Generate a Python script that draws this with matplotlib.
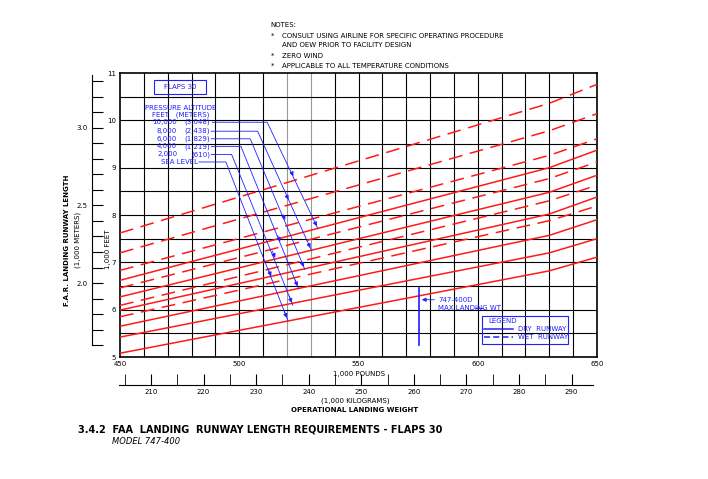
import matplotlib
matplotlib.use("Agg")
import matplotlib.pyplot as plt
import numpy as np

weights = [450, 630, 650]  # 1,000 lb
altitudes = ["SEA LEVEL", "2,000", "4,000", "6,000", "8,000", "10,000"]
dry = [[5.08, 6.82, 7.11], [5.42, 7.20, 7.50], [5.65, 7.57, 7.90],
       [5.99, 8.02, 8.38], [6.27, 8.48, 8.84], [6.62, 9.00, 9.37]]
wet = [[5.85, 7.88, 8.19], [6.09, 8.30, 8.63], [6.46, 8.77, 9.12],
       [6.83, 9.26, 9.61], [7.20, 9.78, 10.14], [7.62, 10.36, 10.76]]
alt_labels = [("10,000", "(3,048)"), ("8,000", "(2,438)"), ("6,000", "(1,829)"),
              ("4,000", "(1,219)"), ("2,000", "(610)")]
# leader geometry (data coords): label y, start x, corner x, mid arrow, end arrow
leaders = [(9.96, 488.7, 511.7, (523.2, 8.77), (533.0, 7.71)),
           (9.77, 488.3, 507.7, (521.1, 8.27), (530.3, 7.25)),
           (9.61, 488.3, 504.6, (519.7, 7.84), (527.5, 6.85)),
           (9.45, 488.3, 500.7, (517.6, 7.38), (524.9, 6.44)),
           (9.28, 488.3, 496.8, (515.5, 7.04), (522.5, 6.09)),
           (9.12, 483.1, 494.4, (513.8, 6.65), (520.4, 5.77))]
max_landing_wt = 575.4

BLUE = "#2020ff"
RED = "#ff1a1a"
FS = 5
fig = plt.figure(figsize=(7.08, 4.79), dpi=100)
ax = fig.add_axes([120/708, 1-357/479, 477/708, 284/479])
ax.set_xlim(450, 650)
ax.set_ylim(5, 11)
for x in range(460, 650, 10):
    ax.axvline(x, color="#999999" if x in (520, 530) else "black", lw=0.8, zorder=1)
for y in np.arange(5.5, 11, 0.5):
    ax.axhline(y, color="black", lw=0.8, zorder=1)
for s in ax.spines.values():
    s.set_linewidth(1.2)
for d in dry:
    ax.plot(weights, d, color=RED, lw=1.1, zorder=3)
for w in wet:
    ax.plot(weights, w, color=RED, lw=1.1, ls=(0, (9, 5)), zorder=3)

ax.set_xticks([450, 500, 550, 600, 650])
ax.set_yticks(range(5, 12))
ax.tick_params(length=0, labelsize=FS, pad=3)
ax.text(550, 4.70, "1,000 POUNDS", ha="center", va="top", fontsize=FS)
ax.text(-0.025, 0.38, "1,000 FEET", rotation=90, transform=ax.transAxes,
        ha="center", va="center", fontsize=FS)

# meters axis
mt = np.round(np.arange(1.6, 3.35, 0.1), 1)
sec = ax.secondary_yaxis(-0.0587, functions=(lambda f: f/3.28084, lambda m: m*3.28084))
sec.set_yticks(mt)
sec.set_yticklabels([f"{v:.1f}" if v in (2.0, 2.5, 3.0) else "" for v in mt])
sec.tick_params(direction="in", length=8, labelsize=FS, width=0.8, pad=3)
sec.spines["left"].set_bounds(1.6, 3.34)
fig.text(67/708, 1-240/479, "F.A.R. LANDING RUNWAY LENGTH", rotation=90, fontsize=FS,
         fontweight="bold", ha="center", va="center")
fig.text(78/708, 1-240/479, "(1,000 METERS)", rotation=90, fontsize=FS,
         ha="center", va="center")

# kg axis
kax = fig.add_axes([120/708, 1-385/479, 477/708, 0.001])
kax.set_xlim(450/2.20462, 650/2.20462)
for k in ["top", "left", "right"]:
    kax.spines[k].set_visible(False)
kax.spines["bottom"].set_bounds(204, 294)
kax.set_yticks([])
kax.set_xticks(range(205, 295, 5), minor=True)
kax.set_xticks(range(210, 300, 10))
kax.tick_params(axis="x", which="both", direction="in", length=8, labelsize=FS, pad=3)
fig.text(355/708, 1-401/479, "(1,000 KILOGRAMS)", ha="center", va="center", fontsize=FS)
fig.text(355/708, 1-410/479, "OPERATIONAL LANDING WEIGHT", ha="center", va="center",
         fontsize=FS, fontweight="bold")

# flaps box
ax.add_patch(plt.Rectangle((464.4, 10.55), 21.8, 0.31, fill=False, ec=BLUE, lw=0.8, zorder=4))
ax.text(475.3, 10.70, "FLAPS 30", color=BLUE, fontsize=FS, ha="center", va="center")
ax.text(475.4, 10.26, "PRESSURE ALTITUDE", color=BLUE, fontsize=FS, ha="center", va="center")
ax.text(475.4, 10.11, "FEET   (METERS)", color=BLUE, fontsize=FS, ha="center", va="center")
for (a, m), (ly, *_r) in zip(alt_labels, leaders):
    ax.text(474, ly, a, color=BLUE, fontsize=FS, ha="right", va="center")
    ax.text(487.8, ly, m, color=BLUE, fontsize=FS, ha="right", va="center")
ax.text(482.5, leaders[-1][0], "SEA LEVEL", color=BLUE, fontsize=FS, ha="right", va="center")
for ly, x0, xc, mid, end in leaders:
    ax.plot([x0, xc, end[0]], [ly, ly, end[1]], color=BLUE, lw=0.6, zorder=5)
    dx, dy = end[0]-xc, end[1]-ly
    for p in (mid, end):
        ax.annotate("", xy=p, xytext=(p[0]-dx*0.08, p[1]-dy*0.08),
                    arrowprops=dict(arrowstyle="-|>", color=BLUE, lw=0.6,
                                    mutation_scale=6), zorder=6)

# max landing weight
ax.plot([max_landing_wt]*2, [5.26, 6.46], color=BLUE, lw=1.2, zorder=5)
ax.annotate("", xy=(max_landing_wt, 6.21), xytext=(583, 6.21),
            arrowprops=dict(arrowstyle="-|>", color=BLUE, lw=0.6, mutation_scale=6))
ax.text(583.5, 6.21, "747-400D", color=BLUE, fontsize=FS, va="center")
ax.text(583.5, 6.04, "MAX LANDING WT", color=BLUE, fontsize=FS, va="center")
ax.plot([599, 602], [6.04, 6.04], color=BLUE, lw=0.6)

# legend box
ax.add_patch(plt.Rectangle((601.6, 5.28), 36.4, 0.59, fill=False, ec=BLUE, lw=0.8, zorder=5))
ax.text(610.5, 5.76, "LEGEND", color=BLUE, fontsize=FS, ha="center", va="center")
ax.plot([602.8, 614.8], [5.59, 5.59], color=BLUE, lw=1.1)
ax.plot([602.8, 614.8], [5.43, 5.43], color=BLUE, lw=1.1, ls=(0, (4, 2)))
ax.text(617, 5.59, "DRY  RUNWAY", color=BLUE, fontsize=FS, va="center")
ax.text(617, 5.43, "WET  RUNWAY", color=BLUE, fontsize=FS, va="center")

# notes
fig.text(270/708, 1-25/479, "NOTES:", fontsize=FS, va="center")
notes = [(36, "*", "CONSULT USING AIRLINE FOR SPECIFIC OPERATING PROCEDURE"),
         (45, "", "AND OEW PRIOR TO FACILITY DESIGN"),
         (56, "*", "ZERO WIND"),
         (66, "*", "APPLICABLE TO ALL TEMPERATURE CONDITIONS")]
for y, b, t in notes:
    fig.text(271/708, 1-y/479, b, fontsize=FS, va="center")
    fig.text(282/708, 1-y/479, t, fontsize=FS, va="center")

fig.text(78/708, 1-429/479, "3.4.2  FAA  LANDING  RUNWAY LENGTH REQUIREMENTS - FLAPS 30",
         fontsize=7, fontweight="bold", va="center")
fig.text(112/708, 1-441/479, "MODEL 747-400", fontsize=6, style="italic", va="center")

fig.savefig("out.png", dpi=100)
